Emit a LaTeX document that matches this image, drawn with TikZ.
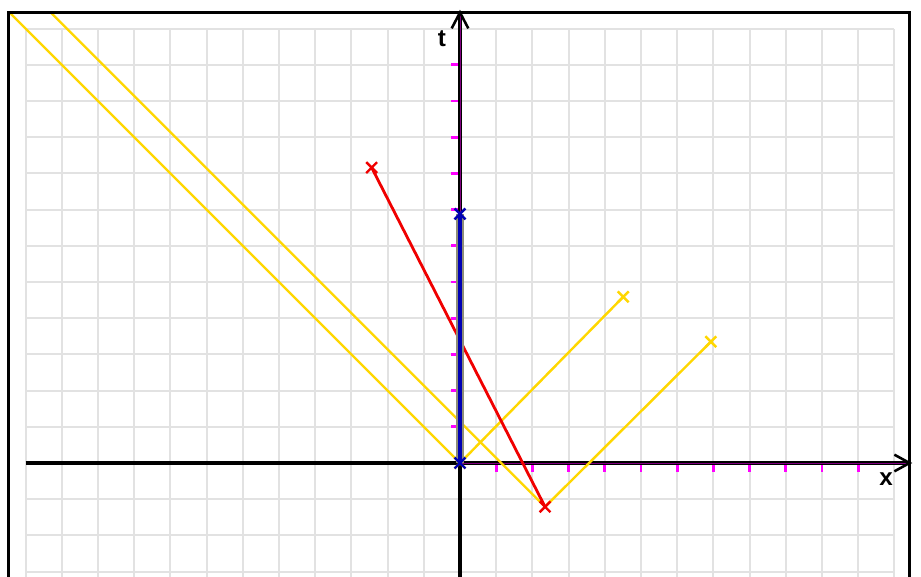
\documentclass[tikz,border=0pt]{standalone}
\usepackage{fontspec}
\setmainfont{Liberation Sans}
\definecolor{gridgray}{HTML}{E2E2E2}
\definecolor{ygold}{HTML}{FFD700}
\definecolor{rred}{HTML}{F00000}
\definecolor{bblue}{HTML}{0000B4}
\definecolor{bgray}{HTML}{8E8E78}
\definecolor{axpurple}{HTML}{800080}
\definecolor{tickmag}{HTML}{FF00FF}
\tikzset{
  gridline/.style={draw=gridgray, line width=1.5pt},
  frameline/.style={draw=black, line width=2.3pt},
  axisline/.style={draw=black, line width=2.4pt},
  axisover/.style={draw=axpurple, line width=1.1pt},
  tickline/.style={draw=tickmag, line width=2.2pt},
  yline/.style={draw=ygold, line width=1.9pt},
  rline/.style={draw=rred, line width=2.2pt},
  chevron/.style={draw=black, line width=2pt, line join=miter},
  lbl/.style={font=\fontsize{19}{19}\selectfont\bfseries, inner sep=0pt},
}
\newcommand{\xmark}[3]{\draw[#1, line width=1.9pt] ($(#2)+(-#3,-#3)$) -- ($(#2)+(#3,#3)$) ($(#2)+(-#3,#3)$) -- ($(#2)+(#3,-#3)$);}
\usetikzlibrary{calc}
\begin{document}
\begin{tikzpicture}
\useasboundingbox[fill=white] (-12.707,-3.122) rectangle (12.735,12.790);
% grid
\foreach \i in {-12,...,12} \draw[gridline] (\i,-3.3) -- (\i,12);
\foreach \j in {-3,...,12} \draw[gridline] (-12,\j) -- (12,\j);
% coordinates
\coordinate (O) at (0,0);
\coordinate (FL) at (-12.46,-3.3);
\coordinate (FTL) at (-12.46,12.445);
\coordinate (FTR) at (12.42,12.445);
\coordinate (FR) at (12.42,-3.3);
\coordinate (XL) at (-12,0);
\coordinate (XR) at (12.42,0);
\coordinate (TB) at (0,-3.3);
\coordinate (TT) at (0,12.445);
\coordinate (R1) at (-2.44,8.16);
\coordinate (R2) at (2.35,-1.21);
\coordinate (Y1) at (4.51,4.59);
\coordinate (Y2) at (6.93,3.35);
\coordinate (YL1) at (-12.445,12.445);
\coordinate (YL2) at (-11.305,12.445);
\coordinate (B1) at (0,6.88);
% ticks
\foreach \k in {1,...,11} {
  \draw[tickline] (-0.24,\k) -- (0,\k);
  \draw[tickline] (\k,0) -- (\k,-0.24);
}
% axes
\draw[axisline] (XL) -- (XR);
\draw[axisline] (TB) -- (TT);
\draw[axisover] ([yshift=-0.4pt]O) -- ([yshift=-0.4pt]XR);
\draw[axisover] ([xshift=0.6pt]O) -- ([xshift=0.6pt]TT);
\draw[chevron] ($(XR)+(-0.42,0.23)$) -- (XR) -- ($(XR)+(-0.42,-0.23)$);
\draw[chevron] ($(TT)+(-0.23,-0.44)$) -- (TT) -- ($(TT)+(0.23,-0.44)$);
% yellow light lines
\draw[yline] (O) -- (YL1);
\draw[yline] (O) -- (Y1);
\draw[yline] (R2) -- (YL2);
\draw[yline] (R2) -- (Y2);
\xmark{ygold}{Y1}{0.15}
\xmark{ygold}{Y2}{0.15}
\xmark{ygold}{O}{0.15}
% red line
\draw[rline] (R1) -- (R2);
\xmark{rred}{R1}{0.15}
\xmark{rred}{R2}{0.15}
% blue line
\draw[draw=bgray, line width=6.5pt] (O) -- (B1);
\draw[draw=bblue, line width=3.5pt] (O) -- (B1);
\xmark{bblue}{B1}{0.15}
\xmark{bblue}{O}{0.15}
% frame
\draw[frameline] (FL) -- (FTL) -- (FTR) -- (FR);
% labels
\node[lbl] (tl) at (-0.50,11.71) {t};
\node[lbl] (xl) at (11.77,-0.44) {x};
\end{tikzpicture}
\end{document}
